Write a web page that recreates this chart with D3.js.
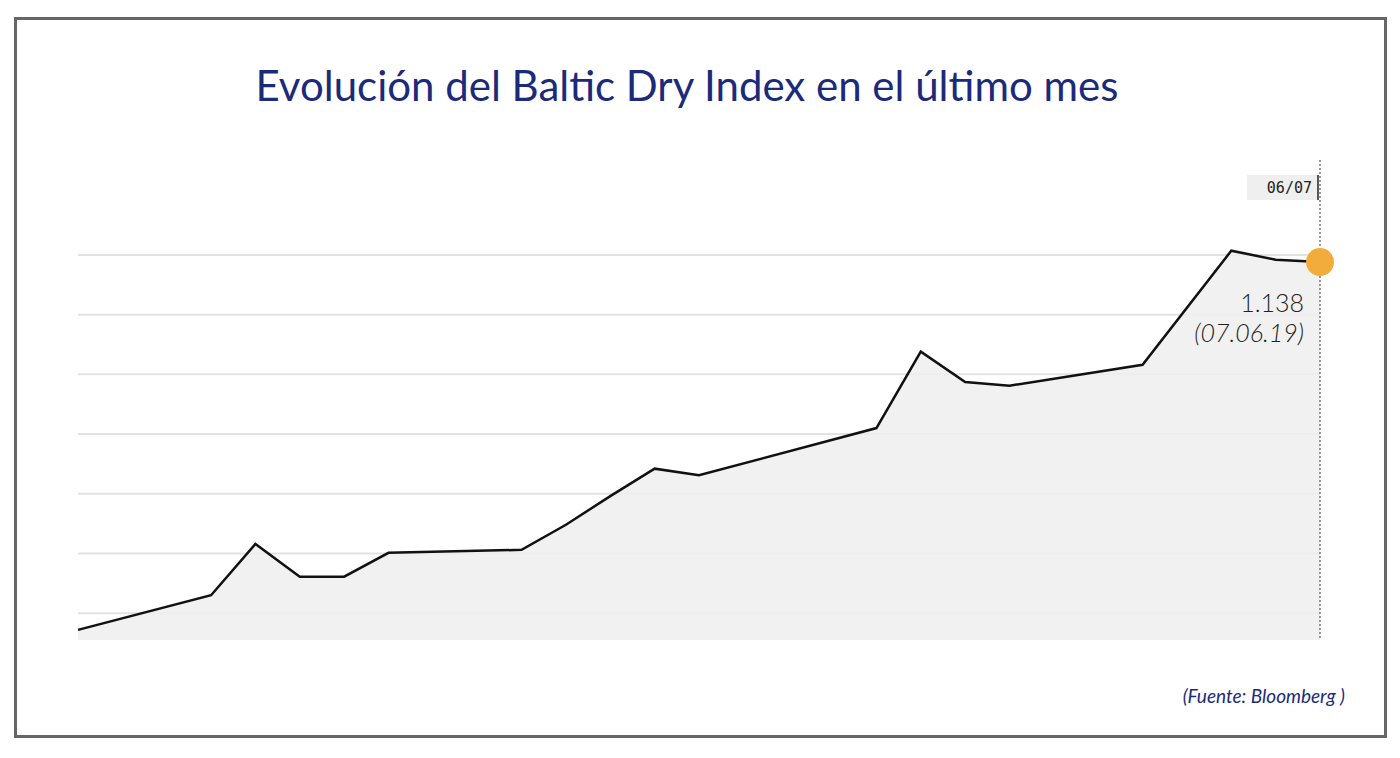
<!DOCTYPE html>
<html>
<head>
<meta charset="utf-8">
<script src="https://cdn.jsdelivr.net/npm/d3@7"></script>
<style>
  body { margin: 0; background: #fff; }
</style>
</head>
<body>
<div id="chart"></div>
<script>
// Baltic Dry Index, last month (trading days)
const dates = ["2019-05-10","2019-05-13","2019-05-14","2019-05-15","2019-05-16","2019-05-17",
  "2019-05-20","2019-05-21","2019-05-22","2019-05-23","2019-05-24","2019-05-28","2019-05-29",
  "2019-05-30","2019-05-31","2019-06-03","2019-06-05","2019-06-06","2019-06-07"];
const values = [522, 580, 666, 611, 611, 651, 656, 698, 746, 792, 781, 860, 988, 937, 931, 966, 1157, 1142, 1138];
const gridValues = [550, 650, 750, 850, 950, 1050, 1150];

const W = 1400, H = 758;
const margin = { top: 160, right: 80, bottom: 118, left: 78 };
const parse = d3.timeParse("%Y-%m-%d");
const data = dates.map((d, i) => ({ date: parse(d), v: values[i] }));

const svg = d3.select("#chart").append("svg")
  .attr("width", W).attr("height", H);

// frame
svg.append("rect")
  .attr("x", 15.5).attr("y", 18.5).attr("width", 1370).attr("height", 718)
  .attr("fill", "#fff").attr("stroke", "#666").attr("stroke-width", 3);

svg.append("text")
  .attr("x", 687).attr("y", 101)
  .attr("text-anchor", "middle")
  .attr("font-family", "Lato, sans-serif")
  .attr("font-size", 42)
  .attr("fill", "#1c2a7a")
  .text("Evolución del Baltic Dry Index en el último mes");

const x = d3.scaleTime()
  .domain(d3.extent(data, d => d.date))
  .range([margin.left, W - margin.right]);
const y = d3.scaleLinear()
  .domain([505, 1309])
  .range([H - margin.bottom, margin.top]);

// grid
svg.append("g").selectAll("line")
  .data(gridValues)
  .join("line")
  .attr("x1", margin.left).attr("x2", W - margin.right)
  .attr("y1", d => y(d)).attr("y2", d => y(d))
  .attr("stroke", "#e2e2e2").attr("stroke-width", 2);

svg.append("path")
  .datum(data)
  .attr("fill", "#efefef")
  .attr("fill-opacity", 0.85)
  .attr("d", d3.area().x(d => x(d.date)).y0(y(505)).y1(d => y(d.v)));

svg.append("path")
  .datum(data)
  .attr("fill", "none")
  .attr("stroke", "#111")
  .attr("stroke-width", 2.5)
  .attr("d", d3.line().x(d => x(d.date)).y(d => y(d.v)));

const last = data[data.length - 1];
const lx = x(last.date);

svg.append("line")
  .attr("x1", lx).attr("x2", lx)
  .attr("y1", margin.top).attr("y2", H - margin.bottom)
  .attr("stroke", "#333").attr("stroke-dasharray", "2,2");

svg.append("rect")
  .attr("x", lx - 73).attr("y", 175).attr("width", 71).attr("height", 25)
  .attr("fill", "#efefef");
svg.append("line")
  .attr("x1", lx - 2).attr("x2", lx - 2).attr("y1", 175).attr("y2", 200)
  .attr("stroke", "#222").attr("stroke-width", 1.5);
svg.append("text")
  .attr("x", lx - 8).attr("y", 193)
  .attr("text-anchor", "end")
  .attr("font-family", "DejaVu Sans Mono, monospace")
  .attr("font-size", 15)
  .attr("fill", "#222")
  .text(d3.timeFormat("%m/%d")(last.date));

svg.append("circle")
  .attr("cx", lx).attr("cy", y(last.v)).attr("r", 14)
  .attr("fill", "#f2ac3c");

svg.append("text")
  .attr("x", lx - 16).attr("y", 312)
  .attr("text-anchor", "end")
  .attr("font-family", "Lato, sans-serif")
  .attr("font-weight", 300)
  .attr("font-size", 25).attr("fill", "#222")
  .text(d3.format(",")(last.v).replace(",", "."));
svg.append("text")
  .attr("x", lx - 16).attr("y", 342)
  .attr("text-anchor", "end")
  .attr("font-family", "Lato, sans-serif")
  .attr("font-weight", 300)
  .attr("font-style", "italic")
  .attr("font-size", 25).attr("fill", "#222")
  .text("(" + d3.timeFormat("%d.%m.%y")(last.date) + ")");

svg.append("text")
  .attr("x", 1345).attr("y", 703)
  .attr("text-anchor", "end")
  .attr("font-family", "Lato, sans-serif")
  .attr("font-style", "italic")
  .attr("font-size", 19).attr("fill", "#1c2a7a")
  .text("(Fuente: Bloomberg )");
</script>
</body>
</html>
